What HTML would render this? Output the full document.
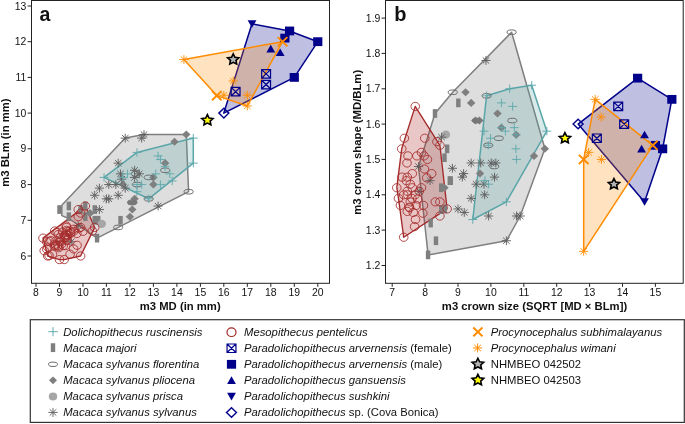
<!DOCTYPE html>
<html lang="en"><head><meta charset="utf-8"><title>m3 scatter plots</title>
<style>html,body{margin:0;padding:0;background:#fff}body{width:685px;height:424px;overflow:hidden}</style>
</head><body>
<svg width="685" height="424" viewBox="0 0 685 424" style="display:block;font-family:'Liberation Sans',Arial,sans-serif">
<rect width="685" height="424" fill="#fff"/>
<polygon points="61.8,205.3 125.2,138.1 144.0,134.6 186.3,134.6 188.6,191.7 118.2,227.4 97.0,238.1 68.9,218.5 61.8,215.6" fill="rgba(127,127,127,0.26)" stroke="#7f7f7f" stroke-width="1.5" stroke-linejoin="round"/>
<polygon points="104.1,177.4 137.0,152.4 193.3,138.1 193.3,163.1 148.7,198.8" fill="rgba(90,165,168,0.23)" stroke="#5aa5a8" stroke-width="1.5" stroke-linejoin="round"/>
<polygon points="43.0,238.1 85.3,206.0 94.7,227.4 80.6,256.0 64.2,259.6 59.5,259.6 47.7,256.0" fill="rgba(170,40,40,0.26)" stroke="#a52a2a" stroke-width="1.35" stroke-linejoin="round"/>
<polygon points="223.8,113.1 252.0,23.8 289.6,31.0 317.8,41.7 294.3,77.4" fill="rgba(0,0,139,0.25)" stroke="#00008b" stroke-width="1.5" stroke-linejoin="round"/>
<polygon points="183.9,59.5 282.5,41.7 247.3,106.0 216.8,95.6" fill="rgba(255,140,0,0.25)" stroke="#ff8c00" stroke-width="1.5" stroke-linejoin="round"/>
<rect x="57.28" y="205.21" width="4.4" height="8.7" fill="#7f7f7f"/>
<rect x="66.67" y="201.64" width="4.4" height="8.7" fill="#7f7f7f"/>
<rect x="66.67" y="212.36" width="4.4" height="8.7" fill="#7f7f7f"/>
<rect x="83.11" y="201.64" width="4.4" height="8.7" fill="#7f7f7f"/>
<rect x="83.11" y="212.36" width="4.4" height="8.7" fill="#7f7f7f"/>
<rect x="92.5" y="205.21" width="4.4" height="8.7" fill="#7f7f7f"/>
<rect x="92.5" y="215.93" width="4.4" height="8.7" fill="#7f7f7f"/>
<rect x="96.02" y="215.93" width="4.4" height="8.7" fill="#7f7f7f"/>
<rect x="94.85" y="233.79" width="4.4" height="8.7" fill="#7f7f7f"/>
<rect x="118.33" y="215.93" width="4.4" height="8.7" fill="#7f7f7f"/>
<rect x="78.41" y="205.21" width="4.4" height="8.7" fill="#7f7f7f"/>
<ellipse cx="101.74" cy="223.85" rx="4.3" ry="4.12" fill="#a6a6a6"/>
<path d="M182.07 134.55L186.27 130.53L190.47 134.55L186.27 138.57Z" fill="#7f7f7f"/>
<path d="M170.33 141.7L174.53 137.68L178.73 141.7L174.53 145.72Z" fill="#7f7f7f"/>
<path d="M160.94 163.13L165.14 159.11L169.34 163.13L165.14 167.15Z" fill="#7f7f7f"/>
<path d="M149.2 177.42L153.4 173.4L157.6 177.42L153.4 181.44Z" fill="#7f7f7f"/>
<path d="M149.2 184.56L153.4 180.54L157.6 184.56L153.4 188.58Z" fill="#7f7f7f"/>
<path d="M118.68 184.56L122.88 180.54L127.08 184.56L122.88 188.58Z" fill="#7f7f7f"/>
<path d="M130.42 198.85L134.62 194.83L138.82 198.85L134.62 202.87Z" fill="#7f7f7f"/>
<path d="M128.07 209.56L132.27 205.54L136.47 209.56L132.27 213.58Z" fill="#7f7f7f"/>
<path d="M125.72 216.71L129.92 212.69L134.12 216.71L129.92 220.73Z" fill="#7f7f7f"/>
<path d="M85.8 213.14L90 209.12L94.2 213.14L90 217.16Z" fill="#7f7f7f"/>
<ellipse cx="132.27" cy="202.42" rx="4.8" ry="2.5" fill="#777" stroke="#777" stroke-width="1"/>
<path d="M120.62 138.12H129.82M125.22 133.72V142.53M121.97 135.01L128.48 141.24M121.97 141.24L128.48 135.01" stroke="#606060" stroke-width="0.95" fill="none"/>
<path d="M139.41 134.55H148.61M144.01 130.15V138.95M140.76 131.44L147.26 137.66M140.76 137.66L147.26 131.44" stroke="#606060" stroke-width="0.95" fill="none"/>
<path d="M137.06 138.12H146.26M141.66 133.72V142.53M138.41 135.01L144.91 141.24M138.41 141.24L144.91 135.01" stroke="#606060" stroke-width="0.95" fill="none"/>
<path d="M113.58 163.13H122.78M118.18 158.73V167.53M114.93 160.02L121.43 166.24M114.93 166.24L121.43 160.02" stroke="#606060" stroke-width="0.95" fill="none"/>
<path d="M130.02 170.27H139.22M134.62 165.87V174.67M131.36 167.16L137.87 173.38M131.36 173.38L137.87 167.16" stroke="#606060" stroke-width="0.95" fill="none"/>
<path d="M115.93 173.84H125.13M120.53 169.44V178.25M117.28 170.73L123.78 176.96M117.28 176.96L123.78 170.73" stroke="#606060" stroke-width="0.95" fill="none"/>
<path d="M134.71 173.84H143.91M139.31 169.44V178.25M136.06 170.73L142.56 176.96M136.06 176.96L142.56 170.73" stroke="#606060" stroke-width="0.95" fill="none"/>
<path d="M130.02 177.42H139.22M134.62 173.01V181.82M131.36 174.3L137.87 180.53M131.36 180.53L137.87 174.3" stroke="#606060" stroke-width="0.95" fill="none"/>
<path d="M104.19 184.56H113.39M108.79 180.16V188.96M105.54 181.45L112.04 187.67M105.54 187.67L112.04 181.45" stroke="#606060" stroke-width="0.95" fill="none"/>
<path d="M111.23 184.56H120.43M115.83 180.16V188.96M112.58 181.45L119.08 187.67M112.58 187.67L119.08 181.45" stroke="#606060" stroke-width="0.95" fill="none"/>
<path d="M94.8 188.13H104M99.4 183.73V192.53M96.14 185.02L102.65 191.24M96.14 191.24L102.65 185.02" stroke="#606060" stroke-width="0.95" fill="none"/>
<path d="M120.62 188.13H129.82M125.22 183.73V192.53M121.97 185.02L128.48 191.24M121.97 191.24L128.48 185.02" stroke="#606060" stroke-width="0.95" fill="none"/>
<path d="M90.1 195.28H99.3M94.7 190.87V199.68M91.45 192.16L97.95 198.39M91.45 198.39L97.95 192.16" stroke="#606060" stroke-width="0.95" fill="none"/>
<path d="M101.84 198.85H111.04M106.44 194.45V203.25M103.19 195.74L109.69 201.96M103.19 201.96L109.69 195.74" stroke="#606060" stroke-width="0.95" fill="none"/>
<path d="M104.19 198.85H113.39M108.79 194.45V203.25M105.54 195.74L112.04 201.96M105.54 201.96L112.04 195.74" stroke="#606060" stroke-width="0.95" fill="none"/>
<path d="M113.58 195.28H122.78M118.18 190.87V199.68M114.93 192.16L121.43 198.39M114.93 198.39L121.43 192.16" stroke="#606060" stroke-width="0.95" fill="none"/>
<path d="M94.8 209.56H104M99.4 205.16V213.97M96.14 206.45L102.65 212.68M96.14 212.68L102.65 206.45" stroke="#606060" stroke-width="0.95" fill="none"/>
<path d="M153.5 205.99H162.7M158.1 201.59V210.39M154.84 202.88L161.35 209.1M154.84 209.1L161.35 202.88" stroke="#606060" stroke-width="0.95" fill="none"/>
<path d="M66.62 241.71H75.82M71.22 237.31V246.11M67.97 238.6L74.47 244.82M67.97 244.82L74.47 238.6" stroke="#606060" stroke-width="0.95" fill="none"/>
<path d="M73.66 225.64H82.86M78.26 221.24V230.04M75.01 222.53L81.52 228.75M75.01 228.75L81.52 222.53" stroke="#606060" stroke-width="0.95" fill="none"/>
<path d="M117.1 179.2H126.3M121.7 174.8V183.6M118.45 176.09L124.95 182.31M118.45 182.31L124.95 176.09" stroke="#606060" stroke-width="0.95" fill="none"/>
<ellipse cx="165.14" cy="170.27" rx="4.6" ry="2.3" fill="none" stroke="#6a6a6a" stroke-width="1"/>
<ellipse cx="148.7" cy="177.42" rx="4.6" ry="2.3" fill="none" stroke="#6a6a6a" stroke-width="1"/>
<ellipse cx="135.79" cy="173.84" rx="4.6" ry="2.3" fill="none" stroke="#6a6a6a" stroke-width="1"/>
<ellipse cx="136.96" cy="184.56" rx="4.6" ry="2.3" fill="none" stroke="#6a6a6a" stroke-width="1"/>
<ellipse cx="188.62" cy="191.7" rx="4.6" ry="2.3" fill="none" stroke="#6a6a6a" stroke-width="1"/>
<ellipse cx="148.7" cy="198.85" rx="4.6" ry="2.3" fill="none" stroke="#6a6a6a" stroke-width="1"/>
<ellipse cx="118.18" cy="227.42" rx="4.6" ry="2.3" fill="none" stroke="#6a6a6a" stroke-width="1"/>
<path d="M188.92 138.12H197.72M193.32 133.91V142.33" stroke="#62aaad" stroke-width="0.95" fill="none"/>
<path d="M188.92 163.13H197.72M193.32 158.92V167.34" stroke="#62aaad" stroke-width="0.95" fill="none"/>
<path d="M132.56 152.41H141.36M136.96 148.2V156.62" stroke="#62aaad" stroke-width="0.95" fill="none"/>
<path d="M153.7 155.98H162.5M158.1 151.77V160.19" stroke="#62aaad" stroke-width="0.95" fill="none"/>
<path d="M156.04 159.56H164.84M160.44 155.35V163.77" stroke="#62aaad" stroke-width="0.95" fill="none"/>
<path d="M99.69 177.42H108.49M104.09 173.21V181.63" stroke="#62aaad" stroke-width="0.95" fill="none"/>
<path d="M123.17 173.84H131.97M127.57 169.63V178.05" stroke="#62aaad" stroke-width="0.95" fill="none"/>
<path d="M151.35 173.84H160.15M155.75 169.63V178.05" stroke="#62aaad" stroke-width="0.95" fill="none"/>
<path d="M165.44 173.84H174.24M169.84 169.63V178.05" stroke="#62aaad" stroke-width="0.95" fill="none"/>
<path d="M167.78 180.99H176.58M172.18 176.78V185.2" stroke="#62aaad" stroke-width="0.95" fill="none"/>
<path d="M156.04 184.56H164.84M160.44 180.35V188.77" stroke="#62aaad" stroke-width="0.95" fill="none"/>
<path d="M137.26 184.56H146.06M141.66 180.35V188.77" stroke="#62aaad" stroke-width="0.95" fill="none"/>
<path d="M132.56 184.56H141.36M136.96 180.35V188.77" stroke="#62aaad" stroke-width="0.95" fill="none"/>
<path d="M132.56 191.7H141.36M136.96 187.49V195.91" stroke="#62aaad" stroke-width="0.95" fill="none"/>
<path d="M144.3 198.85H153.1M148.7 194.64V203.06" stroke="#62aaad" stroke-width="0.95" fill="none"/>
<path d="M118.48 177.42H127.28M122.88 173.21V181.63" stroke="#62aaad" stroke-width="0.95" fill="none"/>
<path d="M160.74 166.7H169.54M165.14 162.49V170.91" stroke="#62aaad" stroke-width="0.95" fill="none"/>
<ellipse cx="43.04" cy="238.14" rx="4.3" ry="4.12" fill="none" stroke="#a52a2a" stroke-width="0.85"/>
<ellipse cx="47.74" cy="256" rx="4.3" ry="4.12" fill="none" stroke="#a52a2a" stroke-width="0.85"/>
<ellipse cx="59.48" cy="259.57" rx="4.3" ry="4.12" fill="none" stroke="#a52a2a" stroke-width="0.85"/>
<ellipse cx="64.18" cy="259.57" rx="4.3" ry="4.12" fill="none" stroke="#a52a2a" stroke-width="0.85"/>
<ellipse cx="80.61" cy="256" rx="4.3" ry="4.12" fill="none" stroke="#a52a2a" stroke-width="0.85"/>
<ellipse cx="94.7" cy="227.42" rx="4.3" ry="4.12" fill="none" stroke="#a52a2a" stroke-width="0.85"/>
<ellipse cx="92.35" cy="231" rx="4.3" ry="4.12" fill="none" stroke="#a52a2a" stroke-width="0.85"/>
<ellipse cx="85.31" cy="205.99" rx="4.3" ry="4.12" fill="none" stroke="#a52a2a" stroke-width="0.85"/>
<ellipse cx="78.26" cy="209.56" rx="4.3" ry="4.12" fill="none" stroke="#a52a2a" stroke-width="0.85"/>
<ellipse cx="80.61" cy="213.14" rx="4.3" ry="4.12" fill="none" stroke="#a52a2a" stroke-width="0.85"/>
<ellipse cx="78.26" cy="216.71" rx="4.3" ry="4.12" fill="none" stroke="#a52a2a" stroke-width="0.85"/>
<ellipse cx="80.61" cy="227.42" rx="4.3" ry="4.12" fill="none" stroke="#a52a2a" stroke-width="0.85"/>
<ellipse cx="66.52" cy="227.42" rx="4.3" ry="4.12" fill="none" stroke="#a52a2a" stroke-width="0.85"/>
<ellipse cx="54.78" cy="231" rx="4.3" ry="4.12" fill="none" stroke="#a52a2a" stroke-width="0.85"/>
<ellipse cx="44.22" cy="250.64" rx="4.3" ry="4.12" fill="none" stroke="#a52a2a" stroke-width="0.85"/>
<ellipse cx="78.97" cy="228.14" rx="4.3" ry="4.12" fill="none" stroke="#a52a2a" stroke-width="0.85"/>
<ellipse cx="82.96" cy="231.35" rx="4.3" ry="4.12" fill="none" stroke="#a52a2a" stroke-width="0.85"/>
<ellipse cx="76.86" cy="233.5" rx="4.3" ry="4.12" fill="none" stroke="#a52a2a" stroke-width="0.85"/>
<ellipse cx="47.74" cy="247.07" rx="4.3" ry="4.12" fill="none" stroke="#a52a2a" stroke-width="0.85"/>
<ellipse cx="46.57" cy="241.71" rx="4.3" ry="4.12" fill="none" stroke="#a52a2a" stroke-width="0.85"/>
<ellipse cx="52.44" cy="254.21" rx="4.3" ry="4.12" fill="none" stroke="#a52a2a" stroke-width="0.85"/>
<ellipse cx="70.05" cy="254.21" rx="4.3" ry="4.12" fill="none" stroke="#a52a2a" stroke-width="0.85"/>
<ellipse cx="73.57" cy="248.86" rx="4.3" ry="4.12" fill="none" stroke="#a52a2a" stroke-width="0.85"/>
<ellipse cx="77.09" cy="245.28" rx="4.3" ry="4.12" fill="none" stroke="#a52a2a" stroke-width="0.85"/>
<ellipse cx="66.29" cy="226" rx="4.3" ry="4.12" fill="none" stroke="#a52a2a" stroke-width="0.85"/>
<ellipse cx="73.57" cy="229.21" rx="4.3" ry="4.12" fill="none" stroke="#a52a2a" stroke-width="0.85"/>
<ellipse cx="70.05" cy="231" rx="4.3" ry="4.12" fill="none" stroke="#a52a2a" stroke-width="0.85"/>
<ellipse cx="60.42" cy="237.43" rx="4.3" ry="4.12" fill="none" stroke="#a52a2a" stroke-width="0.85"/>
<ellipse cx="60.65" cy="241.71" rx="4.3" ry="4.12" fill="none" stroke="#a52a2a" stroke-width="0.85"/>
<ellipse cx="55.02" cy="244.21" rx="4.3" ry="4.12" fill="none" stroke="#a52a2a" stroke-width="0.85"/>
<ellipse cx="70.99" cy="232.42" rx="4.3" ry="4.12" fill="none" stroke="#a52a2a" stroke-width="0.85"/>
<ellipse cx="70.28" cy="233.5" rx="4.3" ry="4.12" fill="none" stroke="#a52a2a" stroke-width="0.85"/>
<ellipse cx="65.35" cy="236.71" rx="4.3" ry="4.12" fill="none" stroke="#a52a2a" stroke-width="0.85"/>
<ellipse cx="49.38" cy="241.35" rx="4.3" ry="4.12" fill="none" stroke="#a52a2a" stroke-width="0.85"/>
<ellipse cx="66.29" cy="234.57" rx="4.3" ry="4.12" fill="none" stroke="#a52a2a" stroke-width="0.85"/>
<ellipse cx="49.15" cy="255.64" rx="4.3" ry="4.12" fill="none" stroke="#a52a2a" stroke-width="0.85"/>
<ellipse cx="55.49" cy="245.28" rx="4.3" ry="4.12" fill="none" stroke="#a52a2a" stroke-width="0.85"/>
<ellipse cx="64.65" cy="238.14" rx="4.3" ry="4.12" fill="none" stroke="#a52a2a" stroke-width="0.85"/>
<ellipse cx="66.29" cy="240.64" rx="4.3" ry="4.12" fill="none" stroke="#a52a2a" stroke-width="0.85"/>
<ellipse cx="64.65" cy="235.64" rx="4.3" ry="4.12" fill="none" stroke="#a52a2a" stroke-width="0.85"/>
<ellipse cx="57.13" cy="232.42" rx="4.3" ry="4.12" fill="none" stroke="#a52a2a" stroke-width="0.85"/>
<ellipse cx="66.52" cy="230.28" rx="4.3" ry="4.12" fill="none" stroke="#a52a2a" stroke-width="0.85"/>
<ellipse cx="57.6" cy="245.64" rx="4.3" ry="4.12" fill="none" stroke="#a52a2a" stroke-width="0.85"/>
<ellipse cx="59.71" cy="241.35" rx="4.3" ry="4.12" fill="none" stroke="#a52a2a" stroke-width="0.85"/>
<ellipse cx="67.23" cy="235.28" rx="4.3" ry="4.12" fill="none" stroke="#a52a2a" stroke-width="0.85"/>
<ellipse cx="58.78" cy="246.36" rx="4.3" ry="4.12" fill="none" stroke="#a52a2a" stroke-width="0.85"/>
<ellipse cx="58.31" cy="234.57" rx="4.3" ry="4.12" fill="none" stroke="#a52a2a" stroke-width="0.85"/>
<ellipse cx="55.96" cy="241" rx="4.3" ry="4.12" fill="none" stroke="#a52a2a" stroke-width="0.85"/>
<ellipse cx="65.58" cy="245.64" rx="4.3" ry="4.12" fill="none" stroke="#a52a2a" stroke-width="0.85"/>
<ellipse cx="62.77" cy="232.07" rx="4.3" ry="4.12" fill="none" stroke="#a52a2a" stroke-width="0.85"/>
<ellipse cx="46.8" cy="249.21" rx="4.3" ry="4.12" fill="none" stroke="#a52a2a" stroke-width="0.85"/>
<ellipse cx="61.36" cy="244.21" rx="4.3" ry="4.12" fill="none" stroke="#a52a2a" stroke-width="0.85"/>
<ellipse cx="66.05" cy="237.43" rx="4.3" ry="4.12" fill="none" stroke="#a52a2a" stroke-width="0.85"/>
<ellipse cx="51.03" cy="240.64" rx="4.3" ry="4.12" fill="none" stroke="#a52a2a" stroke-width="0.85"/>
<ellipse cx="67.46" cy="231.35" rx="4.3" ry="4.12" fill="none" stroke="#a52a2a" stroke-width="0.85"/>
<ellipse cx="73.57" cy="231.35" rx="4.3" ry="4.12" fill="none" stroke="#a52a2a" stroke-width="0.85"/>
<ellipse cx="63.24" cy="245.64" rx="4.3" ry="4.12" fill="none" stroke="#a52a2a" stroke-width="0.85"/>
<ellipse cx="66.99" cy="239.93" rx="4.3" ry="4.12" fill="none" stroke="#a52a2a" stroke-width="0.85"/>
<ellipse cx="58.78" cy="247.78" rx="4.3" ry="4.12" fill="none" stroke="#a52a2a" stroke-width="0.85"/>
<ellipse cx="54.78" cy="246" rx="4.3" ry="4.12" fill="none" stroke="#a52a2a" stroke-width="0.85"/>
<path d="M261.65 69.57H270.55V78.09H261.65ZM261.65 69.57L270.55 78.09M261.65 78.09L270.55 69.57" stroke="#00008b" stroke-width="1.2" fill="none"/>
<path d="M261.65 80.29H270.55V88.8H261.65ZM261.65 80.29L270.55 88.8M261.65 88.8L270.55 80.29" stroke="#00008b" stroke-width="1.2" fill="none"/>
<path d="M231.13 87.43H240.03V95.95H231.13ZM231.13 87.43L240.03 95.95M231.13 95.95L240.03 87.43" stroke="#00008b" stroke-width="1.2" fill="none"/>
<rect x="284.98" y="26.56" width="9.2" height="8.8" fill="#00008b"/>
<rect x="280.29" y="33.71" width="9.2" height="8.8" fill="#00008b"/>
<rect x="313.16" y="37.28" width="9.2" height="8.8" fill="#00008b"/>
<rect x="289.68" y="73" width="9.2" height="8.8" fill="#00008b"/>
<path d="M266.4 52.4L275.2 52.4L270.8 44.82Z" fill="#00008b"/>
<path d="M275.79 55.98L284.59 55.98L280.19 48.4Z" fill="#00008b"/>
<path d="M247.62 20.24L256.42 20.24L252.02 27.82Z" fill="#00008b"/>
<path d="M218.84 113.12L223.84 108.34L228.84 113.12L223.84 117.91Z" fill="none" stroke="#00008b" stroke-width="1.4"/>
<path d="M277.74 37.09L287.34 46.27M277.74 46.27L287.34 37.09" stroke="#ff8c00" stroke-width="1.9" fill="none"/>
<path d="M212 91.02L221.6 100.21M212 100.21L221.6 91.02" stroke="#ff8c00" stroke-width="1.9" fill="none"/>
<path d="M179.32 59.54H188.52M183.92 55.14V63.94M180.67 56.43L187.18 62.65M180.67 62.65L187.18 56.43" stroke="#ff8c00" stroke-width="0.9" fill="none"/>
<path d="M228.63 80.97H237.83M233.23 76.57V85.37M229.98 77.86L236.48 84.08M229.98 84.08L236.48 77.86" stroke="#ff8c00" stroke-width="0.9" fill="none"/>
<path d="M219.24 95.26H228.44M223.84 90.86V99.66M220.59 92.15L227.09 98.37M220.59 98.37L227.09 92.15" stroke="#ff8c00" stroke-width="0.9" fill="none"/>
<path d="M242.72 95.26H251.92M247.32 90.86V99.66M244.07 92.15L250.57 98.37M244.07 98.37L250.57 92.15" stroke="#ff8c00" stroke-width="0.9" fill="none"/>
<path d="M242.72 105.98H251.92M247.32 101.57V110.38M244.07 102.86L250.57 109.09M244.07 109.09L250.57 102.86" stroke="#ff8c00" stroke-width="0.9" fill="none"/>
<polygon points="233.23,53.89 234.94,57.29 238.84,57.8 235.99,60.4 236.7,64.11 233.23,62.32 229.76,64.11 230.47,60.4 227.62,57.8 231.53,57.29" fill="#b3b3b3" stroke="#000" stroke-width="1.6" stroke-linejoin="miter"/>
<polygon points="207.4,114.62 209.11,118.02 213.02,118.52 210.16,121.12 210.87,124.83 207.4,123.04 203.94,124.83 204.65,121.12 201.79,118.52 205.7,118.02" fill="#ffff00" stroke="#000" stroke-width="1.6" stroke-linejoin="miter"/>
<rect x="31.5" y="0.5" width="298" height="282.8" fill="none" stroke="#222" stroke-width="1"/>
<path d="M36.0 283.3V286.8" stroke="#222" stroke-width="1"/>
<text transform="translate(36.0 296) scale(1 0.957)" font-size="10.45" text-anchor="middle" fill="#111">8</text>
<path d="M59.5 283.3V286.8" stroke="#222" stroke-width="1"/>
<text transform="translate(59.5 296) scale(1 0.957)" font-size="10.45" text-anchor="middle" fill="#111">9</text>
<path d="M83.0 283.3V286.8" stroke="#222" stroke-width="1"/>
<text transform="translate(83.0 296) scale(1 0.957)" font-size="10.45" text-anchor="middle" fill="#111">10</text>
<path d="M106.4 283.3V286.8" stroke="#222" stroke-width="1"/>
<text transform="translate(106.4 296) scale(1 0.957)" font-size="10.45" text-anchor="middle" fill="#111">11</text>
<path d="M129.9 283.3V286.8" stroke="#222" stroke-width="1"/>
<text transform="translate(129.9 296) scale(1 0.957)" font-size="10.45" text-anchor="middle" fill="#111">12</text>
<path d="M153.4 283.3V286.8" stroke="#222" stroke-width="1"/>
<text transform="translate(153.4 296) scale(1 0.957)" font-size="10.45" text-anchor="middle" fill="#111">13</text>
<path d="M176.9 283.3V286.8" stroke="#222" stroke-width="1"/>
<text transform="translate(176.9 296) scale(1 0.957)" font-size="10.45" text-anchor="middle" fill="#111">14</text>
<path d="M200.4 283.3V286.8" stroke="#222" stroke-width="1"/>
<text transform="translate(200.4 296) scale(1 0.957)" font-size="10.45" text-anchor="middle" fill="#111">15</text>
<path d="M223.8 283.3V286.8" stroke="#222" stroke-width="1"/>
<text transform="translate(223.8 296) scale(1 0.957)" font-size="10.45" text-anchor="middle" fill="#111">16</text>
<path d="M247.3 283.3V286.8" stroke="#222" stroke-width="1"/>
<text transform="translate(247.3 296) scale(1 0.957)" font-size="10.45" text-anchor="middle" fill="#111">17</text>
<path d="M270.8 283.3V286.8" stroke="#222" stroke-width="1"/>
<text transform="translate(270.8 296) scale(1 0.957)" font-size="10.45" text-anchor="middle" fill="#111">18</text>
<path d="M294.3 283.3V286.8" stroke="#222" stroke-width="1"/>
<text transform="translate(294.3 296) scale(1 0.957)" font-size="10.45" text-anchor="middle" fill="#111">19</text>
<path d="M317.8 283.3V286.8" stroke="#222" stroke-width="1"/>
<text transform="translate(317.8 296) scale(1 0.957)" font-size="10.45" text-anchor="middle" fill="#111">20</text>
<path d="M31.5 256.0H27.6" stroke="#222" stroke-width="1"/>
<text transform="translate(26.4 259.6) scale(1 0.957)" font-size="10.45" text-anchor="end" fill="#111">6</text>
<path d="M31.5 220.3H27.6" stroke="#222" stroke-width="1"/>
<text transform="translate(26.4 223.9) scale(1 0.957)" font-size="10.45" text-anchor="end" fill="#111">7</text>
<path d="M31.5 184.6H27.6" stroke="#222" stroke-width="1"/>
<text transform="translate(26.4 188.2) scale(1 0.957)" font-size="10.45" text-anchor="end" fill="#111">8</text>
<path d="M31.5 148.8H27.6" stroke="#222" stroke-width="1"/>
<text transform="translate(26.4 152.4) scale(1 0.957)" font-size="10.45" text-anchor="end" fill="#111">9</text>
<path d="M31.5 113.1H27.6" stroke="#222" stroke-width="1"/>
<text transform="translate(26.4 116.7) scale(1 0.957)" font-size="10.45" text-anchor="end" fill="#111">10</text>
<path d="M31.5 77.4H27.6" stroke="#222" stroke-width="1"/>
<text transform="translate(26.4 81.0) scale(1 0.957)" font-size="10.45" text-anchor="end" fill="#111">11</text>
<path d="M31.5 41.7H27.6" stroke="#222" stroke-width="1"/>
<text transform="translate(26.4 45.3) scale(1 0.957)" font-size="10.45" text-anchor="end" fill="#111">12</text>
<path d="M31.5 6.0H27.6" stroke="#222" stroke-width="1"/>
<text transform="translate(26.4 9.6) scale(1 0.957)" font-size="10.45" text-anchor="end" fill="#111">13</text>
<text transform="translate(180.2 310.1) scale(1 0.957)" font-size="11.3" font-weight="bold" text-anchor="middle" fill="#111">m3 MD (in mm)</text>
<text transform="translate(9,142.6) rotate(-90) scale(1 1.045)" font-size="11.3" font-weight="bold" text-anchor="middle" fill="#111">m3 BLm (in mm)</text>
<text x="39.5" y="21.3" font-size="19.5" font-weight="bold" fill="#111">a</text>
<polygon points="435.0,113.5 452.7,92.3 511.6,32.2 544.9,148.8 520.2,216.0 506.4,240.8 428.1,254.9 418.5,166.5" fill="rgba(127,127,127,0.26)" stroke="#7f7f7f" stroke-width="1.5" stroke-linejoin="round"/>
<polygon points="486.6,95.8 509.7,88.8 531.7,85.2 546.8,131.2 506.4,201.9 472.8,219.5" fill="rgba(90,165,168,0.23)" stroke="#5aa5a8" stroke-width="1.5" stroke-linejoin="round"/>
<polygon points="415.2,106.4 439.9,145.3 447.1,208.9 403.7,237.2 398.5,198.3 396.8,187.7 401.7,148.8" fill="rgba(170,40,40,0.26)" stroke="#a52a2a" stroke-width="1.35" stroke-linejoin="round"/>
<polygon points="578.1,124.1 637.6,78.1 671.8,99.4 662.6,148.8 644.5,201.9" fill="rgba(0,0,139,0.25)" stroke="#00008b" stroke-width="1.5" stroke-linejoin="round"/>
<polygon points="595.2,99.4 652.8,145.3 583.7,251.4 583.7,159.4" fill="rgba(255,140,0,0.25)" stroke="#ff8c00" stroke-width="1.5" stroke-linejoin="round"/>
<rect x="432.77" y="109.15" width="4.4" height="8.7" fill="#7f7f7f"/>
<rect x="456.13" y="98.54" width="4.4" height="8.7" fill="#7f7f7f"/>
<rect x="444.94" y="144.49" width="4.4" height="8.7" fill="#7f7f7f"/>
<rect x="442.31" y="153.33" width="4.4" height="8.7" fill="#7f7f7f"/>
<rect x="447.57" y="176.31" width="4.4" height="8.7" fill="#7f7f7f"/>
<rect x="439.02" y="183.38" width="4.4" height="8.7" fill="#7f7f7f"/>
<rect x="442.64" y="204.59" width="4.4" height="8.7" fill="#7f7f7f"/>
<rect x="439.02" y="205.3" width="4.4" height="8.7" fill="#7f7f7f"/>
<rect x="428.49" y="218.73" width="4.4" height="8.7" fill="#7f7f7f"/>
<rect x="433.76" y="236.4" width="4.4" height="8.7" fill="#7f7f7f"/>
<rect x="425.86" y="250.54" width="4.4" height="8.7" fill="#7f7f7f"/>
<rect x="448.56" y="176.31" width="4.4" height="8.7" fill="#7f7f7f"/>
<ellipse cx="445.83" cy="134.7" rx="4.3" ry="4.12" fill="#a6a6a6"/>
<path d="M461.37 92.28L465.57 88.27L469.77 92.28L465.57 96.3Z" fill="#7f7f7f"/>
<path d="M466.96 102.89L471.16 98.87L475.36 102.89L471.16 106.91Z" fill="#7f7f7f"/>
<path d="M493.28 113.5L497.48 109.48L501.68 113.5L497.48 117.51Z" fill="#7f7f7f"/>
<path d="M471.24 120.56L475.44 116.55L479.64 120.56L475.44 124.58Z" fill="#7f7f7f"/>
<path d="M475.19 120.56L479.38 116.55L483.58 120.56L479.38 124.58Z" fill="#7f7f7f"/>
<path d="M497.23 127.63L501.43 123.62L505.63 127.63L501.43 131.65Z" fill="#7f7f7f"/>
<path d="M512.03 134.7L516.23 130.69L520.43 134.7L516.23 138.72Z" fill="#7f7f7f"/>
<path d="M540.66 148.84L544.86 144.83L549.06 148.84L544.86 152.86Z" fill="#7f7f7f"/>
<path d="M529.8 155.91L534 151.9L538.2 155.91L534 159.93Z" fill="#7f7f7f"/>
<path d="M475.84 173.59L480.04 169.57L484.24 173.59L480.04 177.61Z" fill="#7f7f7f"/>
<path d="M440.31 187.73L444.51 183.71L448.71 187.73L444.51 191.75Z" fill="#7f7f7f"/>
<path d="M481.36 60.47H490.56M485.96 56.07V64.87M482.71 57.36L489.22 63.58M482.71 63.58L489.22 57.36" stroke="#606060" stroke-width="0.95" fill="none"/>
<path d="M436.95 137.18H446.15M441.55 132.78V141.58M438.3 134.07L444.8 140.29M438.3 140.29L444.8 134.07" stroke="#606060" stroke-width="0.95" fill="none"/>
<path d="M413.92 166.52H423.12M418.52 162.12V170.92M415.27 163.41L421.77 169.63M415.27 169.63L421.77 163.41" stroke="#606060" stroke-width="0.95" fill="none"/>
<path d="M447.81 168.29H457.01M452.41 163.89V172.69M449.15 165.17L455.66 171.4M449.15 171.4L455.66 165.17" stroke="#606060" stroke-width="0.95" fill="none"/>
<path d="M425.43 180.66H434.63M430.03 176.26V185.06M426.78 177.55L433.29 183.77M426.78 183.77L433.29 177.55" stroke="#606060" stroke-width="0.95" fill="none"/>
<path d="M414.58 191.27H423.78M419.18 186.86V195.67M415.93 188.15L422.43 194.38M415.93 194.38L422.43 188.15" stroke="#606060" stroke-width="0.95" fill="none"/>
<path d="M457.68 177.12H466.88M462.28 172.72V181.53M459.02 174.01L465.53 180.24M459.02 180.24L465.53 174.01" stroke="#606060" stroke-width="0.95" fill="none"/>
<path d="M458.99 173.59H468.19M463.59 169.19V177.99M460.34 170.48L466.85 176.7M460.34 176.7L466.85 170.48" stroke="#606060" stroke-width="0.95" fill="none"/>
<path d="M453.4 208.94H462.6M458 204.54V213.34M454.75 205.83L461.25 212.05M454.75 212.05L461.25 205.83" stroke="#606060" stroke-width="0.95" fill="none"/>
<path d="M459.65 212.47H468.85M464.25 208.07V216.88M461 209.36L467.5 215.59M461 215.59L467.5 209.36" stroke="#606060" stroke-width="0.95" fill="none"/>
<path d="M486.63 162.98H495.83M491.23 158.58V167.39M487.98 159.87L494.48 166.1M487.98 166.1L494.48 159.87" stroke="#606060" stroke-width="0.95" fill="none"/>
<path d="M491.23 162.98H500.44M495.83 158.58V167.39M492.58 159.87L499.09 166.1M492.58 166.1L499.09 159.87" stroke="#606060" stroke-width="0.95" fill="none"/>
<path d="M476.1 162.98H485.3M480.7 158.58V167.39M477.45 159.87L483.95 166.1M477.45 166.1L483.95 159.87" stroke="#606060" stroke-width="0.95" fill="none"/>
<path d="M466.56 162.98H475.76M471.16 158.58V167.39M467.91 159.87L474.41 166.1M467.91 166.1L474.41 159.87" stroke="#606060" stroke-width="0.95" fill="none"/>
<path d="M489.92 177.12H499.12M494.52 172.72V181.53M491.27 174.01L497.77 180.24M491.27 180.24L497.77 174.01" stroke="#606060" stroke-width="0.95" fill="none"/>
<path d="M471.5 184.19H480.7M476.1 179.79V188.6M472.84 181.08L479.35 187.31M472.84 187.31L479.35 181.08" stroke="#606060" stroke-width="0.95" fill="none"/>
<path d="M479.39 184.19H488.59M483.99 179.79V188.6M480.74 181.08L487.24 187.31M480.74 187.31L487.24 181.08" stroke="#606060" stroke-width="0.95" fill="none"/>
<path d="M480.05 194.8H489.25M484.65 190.4V199.2M481.4 191.69L487.9 197.91M481.4 197.91L487.9 191.69" stroke="#606060" stroke-width="0.95" fill="none"/>
<path d="M466.56 198.34H475.76M471.16 193.93V202.74M467.91 195.22L474.41 201.45M467.91 201.45L474.41 195.22" stroke="#606060" stroke-width="0.95" fill="none"/>
<path d="M484 216.01H493.2M488.6 211.61V220.41M485.34 212.9L491.85 219.12M485.34 219.12L491.85 212.9" stroke="#606060" stroke-width="0.95" fill="none"/>
<path d="M511.96 216.01H521.16M516.56 211.61V220.41M513.31 212.9L519.81 219.12M513.31 219.12L519.81 212.9" stroke="#606060" stroke-width="0.95" fill="none"/>
<path d="M515.58 216.01H524.78M520.18 211.61V220.41M516.93 212.9L523.43 219.12M516.93 219.12L523.43 212.9" stroke="#606060" stroke-width="0.95" fill="none"/>
<path d="M501.76 240.75H510.96M506.36 236.35V245.16M503.11 237.64L509.62 243.87M503.11 243.87L509.62 237.64" stroke="#606060" stroke-width="0.95" fill="none"/>
<ellipse cx="452.74" cy="92.28" rx="4.6" ry="2.3" fill="none" stroke="#6a6a6a" stroke-width="1"/>
<ellipse cx="486.62" cy="95.82" rx="4.6" ry="2.3" fill="none" stroke="#6a6a6a" stroke-width="1"/>
<ellipse cx="511.63" cy="32.19" rx="4.6" ry="2.3" fill="none" stroke="#6a6a6a" stroke-width="1"/>
<ellipse cx="512.28" cy="120.56" rx="4.6" ry="2.3" fill="none" stroke="#6a6a6a" stroke-width="1"/>
<ellipse cx="498.8" cy="138.24" rx="4.6" ry="2.3" fill="none" stroke="#6a6a6a" stroke-width="1"/>
<ellipse cx="488.27" cy="145.31" rx="4.6" ry="2.3" fill="none" stroke="#6a6a6a" stroke-width="1"/>
<ellipse cx="494.19" cy="166.52" rx="4.6" ry="2.3" fill="none" stroke="#6a6a6a" stroke-width="1"/>
<ellipse cx="476.75" cy="120.56" rx="4.6" ry="2.3" fill="#777" stroke="#777" stroke-width="1"/>
<path d="M482.22 95.82H491.02M486.62 91.61V100.03" stroke="#62aaad" stroke-width="0.95" fill="none"/>
<path d="M505.25 88.75H514.05M509.65 84.54V92.96" stroke="#62aaad" stroke-width="0.95" fill="none"/>
<path d="M527.3 85.22H536.1M531.7 81V89.43" stroke="#62aaad" stroke-width="0.95" fill="none"/>
<path d="M542.43 131.17H551.23M546.83 126.96V135.38" stroke="#62aaad" stroke-width="0.95" fill="none"/>
<path d="M501.96 201.87H510.76M506.36 197.66V206.08" stroke="#62aaad" stroke-width="0.95" fill="none"/>
<path d="M468.4 219.54H477.2M472.8 215.33V223.76" stroke="#62aaad" stroke-width="0.95" fill="none"/>
<path d="M497.03 102.89H505.83M501.43 98.68V107.1" stroke="#62aaad" stroke-width="0.95" fill="none"/>
<path d="M508.21 106.43H517.01M512.61 102.21V110.64" stroke="#62aaad" stroke-width="0.95" fill="none"/>
<path d="M497.36 127.63H506.16M501.76 123.42V131.85" stroke="#62aaad" stroke-width="0.95" fill="none"/>
<path d="M509.86 127.63H518.66M514.26 123.42V131.85" stroke="#62aaad" stroke-width="0.95" fill="none"/>
<path d="M511.83 134.7H520.63M516.23 130.49V138.92" stroke="#62aaad" stroke-width="0.95" fill="none"/>
<path d="M500.98 131.17H509.78M505.38 126.96V135.38" stroke="#62aaad" stroke-width="0.95" fill="none"/>
<path d="M479.59 131.17H488.39M483.99 126.96V135.38" stroke="#62aaad" stroke-width="0.95" fill="none"/>
<path d="M486.17 138.24H494.97M490.57 134.03V142.45" stroke="#62aaad" stroke-width="0.95" fill="none"/>
<path d="M483.87 145.31H492.67M488.27 141.1V149.52" stroke="#62aaad" stroke-width="0.95" fill="none"/>
<path d="M511.5 148.84H520.3M515.9 144.63V153.06" stroke="#62aaad" stroke-width="0.95" fill="none"/>
<path d="M512.16 159.45H520.96M516.56 155.24V163.66" stroke="#62aaad" stroke-width="0.95" fill="none"/>
<path d="M480.58 180.66H489.38M484.98 176.45V184.87" stroke="#62aaad" stroke-width="0.95" fill="none"/>
<path d="M484.2 184.19H493M488.6 179.98V188.41" stroke="#62aaad" stroke-width="0.95" fill="none"/>
<ellipse cx="415.23" cy="106.43" rx="4.3" ry="4.12" fill="none" stroke="#a52a2a" stroke-width="0.85"/>
<ellipse cx="404.37" cy="138.24" rx="4.3" ry="4.12" fill="none" stroke="#a52a2a" stroke-width="0.85"/>
<ellipse cx="424.77" cy="138.24" rx="4.3" ry="4.12" fill="none" stroke="#a52a2a" stroke-width="0.85"/>
<ellipse cx="436.94" cy="141.77" rx="4.3" ry="4.12" fill="none" stroke="#a52a2a" stroke-width="0.85"/>
<ellipse cx="439.9" cy="145.31" rx="4.3" ry="4.12" fill="none" stroke="#a52a2a" stroke-width="0.85"/>
<ellipse cx="401.74" cy="148.84" rx="4.3" ry="4.12" fill="none" stroke="#a52a2a" stroke-width="0.85"/>
<ellipse cx="421.48" cy="152.38" rx="4.3" ry="4.12" fill="none" stroke="#a52a2a" stroke-width="0.85"/>
<ellipse cx="407.99" cy="155.91" rx="4.3" ry="4.12" fill="none" stroke="#a52a2a" stroke-width="0.85"/>
<ellipse cx="416.88" cy="155.91" rx="4.3" ry="4.12" fill="none" stroke="#a52a2a" stroke-width="0.85"/>
<ellipse cx="424.11" cy="155.91" rx="4.3" ry="4.12" fill="none" stroke="#a52a2a" stroke-width="0.85"/>
<ellipse cx="427.4" cy="159.45" rx="4.3" ry="4.12" fill="none" stroke="#a52a2a" stroke-width="0.85"/>
<ellipse cx="407" cy="162.98" rx="4.3" ry="4.12" fill="none" stroke="#a52a2a" stroke-width="0.85"/>
<ellipse cx="424.44" cy="168.99" rx="4.3" ry="4.12" fill="none" stroke="#a52a2a" stroke-width="0.85"/>
<ellipse cx="431.68" cy="173.59" rx="4.3" ry="4.12" fill="none" stroke="#a52a2a" stroke-width="0.85"/>
<ellipse cx="412.27" cy="173.59" rx="4.3" ry="4.12" fill="none" stroke="#a52a2a" stroke-width="0.85"/>
<ellipse cx="426.75" cy="177.83" rx="4.3" ry="4.12" fill="none" stroke="#a52a2a" stroke-width="0.85"/>
<ellipse cx="407.33" cy="177.12" rx="4.3" ry="4.12" fill="none" stroke="#a52a2a" stroke-width="0.85"/>
<ellipse cx="406.35" cy="180.66" rx="4.3" ry="4.12" fill="none" stroke="#a52a2a" stroke-width="0.85"/>
<ellipse cx="396.81" cy="187.73" rx="4.3" ry="4.12" fill="none" stroke="#a52a2a" stroke-width="0.85"/>
<ellipse cx="421.48" cy="187.73" rx="4.3" ry="4.12" fill="none" stroke="#a52a2a" stroke-width="0.85"/>
<ellipse cx="412.27" cy="187.73" rx="4.3" ry="4.12" fill="none" stroke="#a52a2a" stroke-width="0.85"/>
<ellipse cx="419.18" cy="191.27" rx="4.3" ry="4.12" fill="none" stroke="#a52a2a" stroke-width="0.85"/>
<ellipse cx="407.33" cy="191.27" rx="4.3" ry="4.12" fill="none" stroke="#a52a2a" stroke-width="0.85"/>
<ellipse cx="407.33" cy="194.8" rx="4.3" ry="4.12" fill="none" stroke="#a52a2a" stroke-width="0.85"/>
<ellipse cx="398.45" cy="198.34" rx="4.3" ry="4.12" fill="none" stroke="#a52a2a" stroke-width="0.85"/>
<ellipse cx="417.53" cy="199.04" rx="4.3" ry="4.12" fill="none" stroke="#a52a2a" stroke-width="0.85"/>
<ellipse cx="435.3" cy="201.87" rx="4.3" ry="4.12" fill="none" stroke="#a52a2a" stroke-width="0.85"/>
<ellipse cx="439.9" cy="201.87" rx="4.3" ry="4.12" fill="none" stroke="#a52a2a" stroke-width="0.85"/>
<ellipse cx="400.43" cy="205.4" rx="4.3" ry="4.12" fill="none" stroke="#a52a2a" stroke-width="0.85"/>
<ellipse cx="416.22" cy="205.4" rx="4.3" ry="4.12" fill="none" stroke="#a52a2a" stroke-width="0.85"/>
<ellipse cx="423.45" cy="205.4" rx="4.3" ry="4.12" fill="none" stroke="#a52a2a" stroke-width="0.85"/>
<ellipse cx="409.31" cy="207.17" rx="4.3" ry="4.12" fill="none" stroke="#a52a2a" stroke-width="0.85"/>
<ellipse cx="447.14" cy="208.94" rx="4.3" ry="4.12" fill="none" stroke="#a52a2a" stroke-width="0.85"/>
<ellipse cx="403.71" cy="237.22" rx="4.3" ry="4.12" fill="none" stroke="#a52a2a" stroke-width="0.85"/>
<ellipse cx="414.57" cy="226.61" rx="4.3" ry="4.12" fill="none" stroke="#a52a2a" stroke-width="0.85"/>
<ellipse cx="415.56" cy="219.54" rx="4.3" ry="4.12" fill="none" stroke="#a52a2a" stroke-width="0.85"/>
<ellipse cx="439.9" cy="216.01" rx="4.3" ry="4.12" fill="none" stroke="#a52a2a" stroke-width="0.85"/>
<ellipse cx="422.8" cy="213.18" rx="4.3" ry="4.12" fill="none" stroke="#a52a2a" stroke-width="0.85"/>
<ellipse cx="413.26" cy="212.47" rx="4.3" ry="4.12" fill="none" stroke="#a52a2a" stroke-width="0.85"/>
<ellipse cx="407.33" cy="211.41" rx="4.3" ry="4.12" fill="none" stroke="#a52a2a" stroke-width="0.85"/>
<ellipse cx="409.64" cy="207.88" rx="4.3" ry="4.12" fill="none" stroke="#a52a2a" stroke-width="0.85"/>
<ellipse cx="410.29" cy="184.19" rx="4.3" ry="4.12" fill="none" stroke="#a52a2a" stroke-width="0.85"/>
<ellipse cx="403.71" cy="194.8" rx="4.3" ry="4.12" fill="none" stroke="#a52a2a" stroke-width="0.85"/>
<ellipse cx="411.94" cy="198.34" rx="4.3" ry="4.12" fill="none" stroke="#a52a2a" stroke-width="0.85"/>
<ellipse cx="415.23" cy="194.8" rx="4.3" ry="4.12" fill="none" stroke="#a52a2a" stroke-width="0.85"/>
<ellipse cx="402.07" cy="177.12" rx="4.3" ry="4.12" fill="none" stroke="#a52a2a" stroke-width="0.85"/>
<ellipse cx="410.29" cy="201.87" rx="4.3" ry="4.12" fill="none" stroke="#a52a2a" stroke-width="0.85"/>
<path d="M613.77 102.17H622.67V110.68H613.77ZM613.77 102.17L622.67 110.68M613.77 110.68L622.67 102.17" stroke="#00008b" stroke-width="1.2" fill="none"/>
<path d="M619.69 119.84H628.6V128.36H619.69ZM619.69 119.84L628.6 128.36M619.69 128.36L628.6 119.84" stroke="#00008b" stroke-width="1.2" fill="none"/>
<path d="M592.39 133.98H601.29V142.5H592.39ZM592.39 133.98L601.29 142.5M592.39 142.5L601.29 133.98" stroke="#00008b" stroke-width="1.2" fill="none"/>
<rect x="633.03" y="73.74" width="9.2" height="8.8" fill="#00008b"/>
<rect x="667.25" y="94.95" width="9.2" height="8.8" fill="#00008b"/>
<rect x="650.8" y="140.91" width="9.2" height="8.8" fill="#00008b"/>
<rect x="658.04" y="144.44" width="9.2" height="8.8" fill="#00008b"/>
<path d="M640.14 138.28L648.94 138.28L644.54 130.7Z" fill="#00008b"/>
<path d="M637.18 152.42L645.98 152.42L641.58 144.84Z" fill="#00008b"/>
<path d="M640.14 198.29L648.94 198.29L644.54 205.87Z" fill="#00008b"/>
<path d="M573.09 124.1L578.09 119.31L583.09 124.1L578.09 128.88Z" fill="none" stroke="#00008b" stroke-width="1.4"/>
<path d="M647.97 140.72L657.57 149.9M647.97 149.9L657.57 140.72" stroke="#ff8c00" stroke-width="1.9" fill="none"/>
<path d="M578.88 154.86L588.48 164.04M578.88 164.04L588.48 154.86" stroke="#ff8c00" stroke-width="1.9" fill="none"/>
<path d="M590.59 99.36H599.79M595.19 94.95V103.76M591.94 96.24L598.45 102.47M591.94 102.47L598.45 96.24" stroke="#ff8c00" stroke-width="0.9" fill="none"/>
<path d="M596.51 117.03H605.72M601.12 112.63V121.43M597.86 113.92L604.37 120.14M597.86 120.14L604.37 113.92" stroke="#ff8c00" stroke-width="0.9" fill="none"/>
<path d="M584.01 152.38H593.21M588.61 147.98V156.78M585.36 149.27L591.87 155.49M585.36 155.49L591.87 149.27" stroke="#ff8c00" stroke-width="0.9" fill="none"/>
<path d="M596.84 159.45H606.04M601.44 155.05V163.85M598.19 156.34L604.7 162.56M598.19 162.56L604.7 156.34" stroke="#ff8c00" stroke-width="0.9" fill="none"/>
<path d="M579.08 251.36H588.28M583.68 246.96V255.76M580.43 248.25L586.93 254.47M580.43 254.47L586.93 248.25" stroke="#ff8c00" stroke-width="0.9" fill="none"/>
<polygon points="613.95,178.55 615.65,181.95 619.56,182.45 616.7,185.05 617.41,188.76 613.95,186.97 610.48,188.76 611.19,185.05 608.33,182.45 612.24,181.95" fill="#b3b3b3" stroke="#000" stroke-width="1.6" stroke-linejoin="miter"/>
<polygon points="564.92,132.59 566.63,135.99 570.54,136.5 567.68,139.1 568.39,142.81 564.92,141.02 561.46,142.81 562.17,139.1 559.31,136.5 563.22,135.99" fill="#ffff00" stroke="#000" stroke-width="1.6" stroke-linejoin="miter"/>
<rect x="385.5" y="0.5" width="297.7" height="282.8" fill="none" stroke="#222" stroke-width="1"/>
<path d="M392.2 283.3V286.8" stroke="#222" stroke-width="1"/>
<text transform="translate(392.2 296) scale(1 0.957)" font-size="10.45" text-anchor="middle" fill="#111">7</text>
<path d="M425.1 283.3V286.8" stroke="#222" stroke-width="1"/>
<text transform="translate(425.1 296) scale(1 0.957)" font-size="10.45" text-anchor="middle" fill="#111">8</text>
<path d="M458.0 283.3V286.8" stroke="#222" stroke-width="1"/>
<text transform="translate(458.0 296) scale(1 0.957)" font-size="10.45" text-anchor="middle" fill="#111">9</text>
<path d="M490.9 283.3V286.8" stroke="#222" stroke-width="1"/>
<text transform="translate(490.9 296) scale(1 0.957)" font-size="10.45" text-anchor="middle" fill="#111">10</text>
<path d="M523.8 283.3V286.8" stroke="#222" stroke-width="1"/>
<text transform="translate(523.8 296) scale(1 0.957)" font-size="10.45" text-anchor="middle" fill="#111">11</text>
<path d="M556.7 283.3V286.8" stroke="#222" stroke-width="1"/>
<text transform="translate(556.7 296) scale(1 0.957)" font-size="10.45" text-anchor="middle" fill="#111">12</text>
<path d="M589.6 283.3V286.8" stroke="#222" stroke-width="1"/>
<text transform="translate(589.6 296) scale(1 0.957)" font-size="10.45" text-anchor="middle" fill="#111">13</text>
<path d="M622.5 283.3V286.8" stroke="#222" stroke-width="1"/>
<text transform="translate(622.5 296) scale(1 0.957)" font-size="10.45" text-anchor="middle" fill="#111">14</text>
<path d="M655.4 283.3V286.8" stroke="#222" stroke-width="1"/>
<text transform="translate(655.4 296) scale(1 0.957)" font-size="10.45" text-anchor="middle" fill="#111">15</text>
<path d="M385.5 265.5H381.6" stroke="#222" stroke-width="1"/>
<text transform="translate(380.4 269.1) scale(1 0.957)" font-size="10.45" text-anchor="end" fill="#111">1.2</text>
<path d="M385.5 230.1H381.6" stroke="#222" stroke-width="1"/>
<text transform="translate(380.4 233.7) scale(1 0.957)" font-size="10.45" text-anchor="end" fill="#111">1.3</text>
<path d="M385.5 194.8H381.6" stroke="#222" stroke-width="1"/>
<text transform="translate(380.4 198.4) scale(1 0.957)" font-size="10.45" text-anchor="end" fill="#111">1.4</text>
<path d="M385.5 159.4H381.6" stroke="#222" stroke-width="1"/>
<text transform="translate(380.4 163.0) scale(1 0.957)" font-size="10.45" text-anchor="end" fill="#111">1.5</text>
<path d="M385.5 124.1H381.6" stroke="#222" stroke-width="1"/>
<text transform="translate(380.4 127.7) scale(1 0.957)" font-size="10.45" text-anchor="end" fill="#111">1.6</text>
<path d="M385.5 88.8H381.6" stroke="#222" stroke-width="1"/>
<text transform="translate(380.4 92.3) scale(1 0.957)" font-size="10.45" text-anchor="end" fill="#111">1.7</text>
<path d="M385.5 53.4H381.6" stroke="#222" stroke-width="1"/>
<text transform="translate(380.4 57.0) scale(1 0.957)" font-size="10.45" text-anchor="end" fill="#111">1.8</text>
<path d="M385.5 18.1H381.6" stroke="#222" stroke-width="1"/>
<text transform="translate(380.4 21.7) scale(1 0.957)" font-size="10.45" text-anchor="end" fill="#111">1.9</text>
<text transform="translate(534.5 310.1) scale(1 0.957)" font-size="11.3" font-weight="bold" text-anchor="middle" fill="#111">m3 crown size (SQRT [MD × BLm])</text>
<text transform="translate(361,142.3) rotate(-90) scale(1 1.045)" font-size="11.3" font-weight="bold" text-anchor="middle" fill="#111">m3 crown shape (MD/BLm)</text>
<text x="394.3" y="21.3" font-size="20" font-weight="bold" fill="#111">b</text>
<rect x="30.3" y="319.7" width="654" height="102.7" fill="#fff" stroke="#333" stroke-width="1.2"/>
<path d="M48.3 331.7H57.7M53 327.2V336.2" stroke="#5aa5a8" stroke-width="0.95" fill="none"/>
<text transform="translate(63.2 336.1) scale(1 0.957)" font-size="11.3" fill="#111"><tspan font-style="italic">Dolichopithecus ruscinensis</tspan></text>
<rect x="50.8" y="343.25" width="4.4" height="8.8" fill="#7f7f7f"/>
<text transform="translate(63.2 352.1) scale(1 0.957)" font-size="11.3" fill="#111"><tspan font-style="italic">Macaca majori</tspan></text>
<ellipse cx="53" cy="364.3" rx="4.5" ry="2.2" fill="none" stroke="#6a6a6a" stroke-width="1"/>
<text transform="translate(63.2 368.2) scale(1 0.957)" font-size="11.3" fill="#111"><tspan font-style="italic">Macaca sylvanus florentina</tspan></text>
<path d="M49 380.35L53 376.52L57 380.35L53 384.18Z" fill="#7f7f7f"/>
<text transform="translate(63.2 384.2) scale(1 0.957)" font-size="11.3" fill="#111"><tspan font-style="italic">Macaca sylvanus pliocena</tspan></text>
<ellipse cx="53" cy="396.4" rx="4.2" ry="4.02" fill="#a6a6a6"/>
<text transform="translate(63.2 400.3) scale(1 0.957)" font-size="11.3" fill="#111"><tspan font-style="italic">Macaca sylvanus prisca</tspan></text>
<path d="M48.3 412.45H57.7M53 407.95V416.95M49.68 409.27L56.32 415.63M49.68 415.63L56.32 409.27" stroke="#666" stroke-width="0.95" fill="none"/>
<text transform="translate(63.2 416.3) scale(1 0.957)" font-size="11.3" fill="#111"><tspan font-style="italic">Macaca sylvanus sylvanus</tspan></text>
<ellipse cx="231.5" cy="332.2" rx="4.5" ry="4.31" fill="none" stroke="#a52a2a" stroke-width="1.2"/>
<text transform="translate(244.0 336.1) scale(1 0.957)" font-size="11.3" fill="#111"><tspan font-style="italic">Mesopithecus pentelicus</tspan></text>
<path d="M227.05 343.99H235.95V352.51H227.05ZM227.05 343.99L235.95 352.51M227.05 352.51L235.95 343.99" stroke="#00008b" stroke-width="1.2" fill="none"/>
<text transform="translate(244.0 352.1) scale(1 0.957)" font-size="11.3" fill="#111"><tspan font-style="italic">Paradolichopithecus arvernensis</tspan><tspan> (female)</tspan></text>
<rect x="226.9" y="359.9" width="9.2" height="8.8" fill="#00008b"/>
<text transform="translate(244.0 368.2) scale(1 0.957)" font-size="11.3" fill="#111"><tspan font-style="italic">Paradolichopithecus arvernensis</tspan><tspan> (male)</tspan></text>
<path d="M227.1 383.93L235.9 383.93L231.5 376.35Z" fill="#00008b"/>
<text transform="translate(244.0 384.2) scale(1 0.957)" font-size="11.3" fill="#111"><tspan font-style="italic">Paradolichopithecus gansuensis</tspan></text>
<path d="M227.1 392.82L235.9 392.82L231.5 400.4Z" fill="#00008b"/>
<text transform="translate(244.0 400.3) scale(1 0.957)" font-size="11.3" fill="#111"><tspan font-style="italic">Paradolichopithecus sushkini</tspan></text>
<path d="M226.5 412.45L231.5 407.66L236.5 412.45L231.5 417.24Z" fill="none" stroke="#00008b" stroke-width="1.4"/>
<text transform="translate(244.0 416.3) scale(1 0.957)" font-size="11.3" fill="#111"><tspan font-style="italic">Paradolichopithecus</tspan><tspan> sp. (Cova Bonica)</tspan></text>
<path d="M473.3 327.5L482.5 336.3M473.3 336.3L482.5 327.5" stroke="#ff8c00" stroke-width="1.9" fill="none"/>
<text transform="translate(490.8 336.1) scale(1 0.957)" font-size="11.3" fill="#111"><tspan font-style="italic">Procynocephalus subhimalayanus</tspan></text>
<path d="M472.9 347.95H482.3M477.6 343.45V352.45M474.28 344.77L480.92 351.13M474.28 351.13L480.92 344.77" stroke="#ff8c00" stroke-width="1.0" fill="none"/>
<text transform="translate(490.8 352.1) scale(1 0.957)" font-size="11.3" fill="#111"><tspan font-style="italic">Procynocephalus wimani</tspan></text>
<polygon points="477.9,358.26 479.66,361.78 483.7,362.3 480.75,364.99 481.49,368.82 477.9,366.97 474.31,368.82 475.05,364.99 472.1,362.3 476.14,361.78" fill="#b3b3b3" stroke="#000" stroke-width="1.6" stroke-linejoin="miter"/>
<text transform="translate(490.8 368.2) scale(1 0.957)" font-size="11.3" fill="#111"><tspan>NHMBEO 042502</tspan></text>
<polygon points="477.9,374.31 479.66,377.83 483.7,378.35 480.75,381.04 481.49,384.87 477.9,383.02 474.31,384.87 475.05,381.04 472.1,378.35 476.14,377.83" fill="#ffff00" stroke="#000" stroke-width="1.6" stroke-linejoin="miter"/>
<text transform="translate(490.8 384.2) scale(1 0.957)" font-size="11.3" fill="#111"><tspan>NHMBEO 042503</tspan></text>
</svg>
</body></html>
